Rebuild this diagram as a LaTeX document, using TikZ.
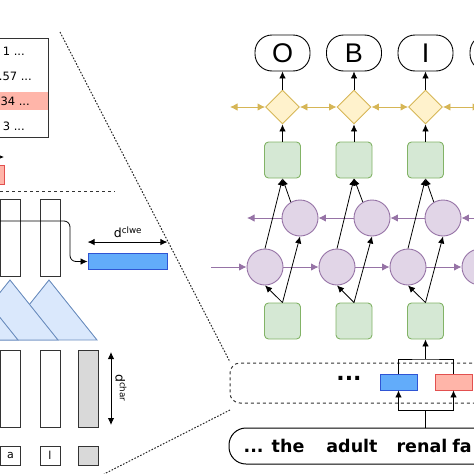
\documentclass[tikz,border=0pt]{standalone}
\usepackage{fontspec}
\setmainfont{DejaVu Sans}
\newfontfamily\tagfont{Liberation Sans}
\usetikzlibrary{arrows,arrows.meta,shapes,calc,positioning}

\definecolor{hidfill}{HTML}{D5E8D4}
\definecolor{hidline}{HTML}{82B366}
\definecolor{rnnfill}{HTML}{E1D5E7}
\definecolor{rnnline}{HTML}{9673A6}
\definecolor{crffill}{HTML}{FFF2CC}
\definecolor{crfline}{HTML}{D6B656}
\definecolor{cnnfill}{HTML}{DAE8FC}
\definecolor{cnnline}{HTML}{6C8EBF}
\definecolor{wordfill}{HTML}{62ACFA}
\definecolor{wordline}{HTML}{2F55D4}
\definecolor{pinkfill}{HTML}{FFB5A9}
\definecolor{pinkline}{HTML}{E2504F}
\definecolor{padfill}{HTML}{D9D9D9}

\tikzset{
	tagbox/.style={draw, line width=0.9pt, rounded corners=17pt, minimum width=55pt, minimum height=36pt, inner sep=0pt, font=\tagfont\fontsize{27}{27}\selectfont},
	crfbox/.style={diamond, draw=crfline, fill=crffill, line width=0.9pt, minimum width=34pt, minimum height=34pt, inner sep=0pt},
	hidbox/.style={draw=hidline, fill=hidfill, line width=0.9pt, rounded corners=4pt, minimum width=36pt, minimum height=36pt, inner sep=0pt},
	rnnbox/.style={circle, draw=rnnline, fill=rnnfill, line width=0.9pt, minimum size=36pt, inner sep=0pt},
	blk/.style={-{Latex[length=7pt, width=6.5pt]}, line width=0.8pt},
	dbl/.style={{Latex[length=7pt, width=6.5pt]}-{Latex[length=7pt, width=6.5pt]}, line width=0.9pt},
	crfarr/.style={{Latex[length=7.5pt, width=7.5pt]}-{Latex[length=7.5pt, width=7.5pt]}, draw=crfline, line width=0.9pt},
	rnnarr/.style={-{Latex[length=7.5pt, width=7.5pt]}, draw=rnnline, line width=0.9pt},
	colbox/.style={draw=black!80, line width=0.9pt, minimum width=20pt, minimum height=77pt, inner sep=0pt},
	charbox/.style={draw=black!80, line width=0.9pt, minimum width=20pt, minimum height=19pt, inner sep=0pt, font=\fontsize{11}{11}\selectfont},
	vecbox/.style={line width=0.9pt, minimum height=16pt, inner sep=0pt},
	rowtext/.style={anchor=east, inner sep=0pt, font=\fontsize{11.5}{11.5}\selectfont},
	wordtext/.style={inner sep=0pt, font=\bfseries\fontsize{17.5}{17.5}\selectfont},
	dotline/.style={line width=1pt, dash pattern=on 1.6pt off 1.6pt, black!85},
	dashline/.style={line width=1pt, dash pattern=on 3pt off 3pt, black!80}
}

\begin{document}
\begin{tikzpicture}[x=1pt,y=-1pt]
	\useasboundingbox (0,0) rectangle (474,474);
	\clip (0,0) rectangle (474,474);
	
	\fill[pinkfill] (-30,92) rectangle (48,110);
	\draw[line width=0.9pt, black!80] (-30,38) rectangle (48,137);
	\node[rowtext] (r1) at (25,51) {1 ...};
	\node[rowtext] (r2) at (32,76) {.57 ...};
	\node[rowtext] (r3) at (30,101) {34 ...};
	\node[rowtext] (r4) at (25,126) {3 ...};
	
	\coordinate (s0) at (-12,157);
	\coordinate (s1) at (4,157);
	\draw[blk] (s0) -- (s1);
	\draw[draw=pinkline, fill=pinkfill, line width=0.9pt] (-20,165) rectangle (4,184);
	\draw[dashline] (0,191) -- (115,191);
	
	\node[colbox] (t1) at (10.5,237.5) {};
	\node[colbox] (t2) at (50,237.5) {};
	\node[vecbox, draw=wordline, fill=wordfill, minimum width=79pt] (cw) at (127.5,261.5) {};
	\coordinate (p0) at (-5,221);
	\draw[blk, rounded corners=6pt] (p0) -- (70,221) -- (70,261.5) -- (cw.west);
	\draw[dbl] ($(cw.north west)+(0,-11)$) -- ($(cw.north east)+(0,-11)$);
	\node[font=\fontsize{12.5}{12.5}\selectfont] (dc) at (128,232) {d\textsuperscript{clwe}};
	
	\draw[fill=cnnfill, draw=cnnline, line width=0.9pt] (1,340) -- (49,280) -- (97,340) -- cycle;
	\draw[fill=cnnfill, draw=cnnline, line width=0.9pt] (-38,340) -- (10,280) -- (58,340) -- cycle;
	\draw[fill=cnnfill, draw=cnnline, line width=0.9pt] (-78,340) -- (-30,280) -- (18,340) -- cycle;
	
	\node[colbox] (u1) at (10.5,388.5) {};
	\node[colbox] (u2) at (50,388.5) {};
	\node[colbox, fill=padfill] (u3) at (88.5,388.5) {};
	\coordinate (dt) at (111,352);
	\coordinate (db) at (111,425);
	\draw[dbl] (dt) -- (db);
	\node[rotate=-90, font=\fontsize{12.5}{12.5}\selectfont] (dh) at (121,388) {d\textsuperscript{char}};
	\node[charbox] (ca) at (10.5,455.5) {a};
	\node[charbox] (cl) at (50,455.5) {l};
	\node[charbox, fill=padfill] (cp) at (88.5,455.5) {};
	
	\coordinate (z0) at (60,32);
	\coordinate (z1) at (230,362);
	\coordinate (z2) at (230,410);
	\coordinate (z3) at (104,474);
	\draw[dotline] (z0) -- (z1);
	\draw[dotline] (z2) -- (z3);
	
	\draw[dashline, rounded corners=10pt] (520,363) -- (230,363) -- (230,403) -- (520,403);
	\node[wordtext, font=\bfseries\fontsize{22}{22}\selectfont] (dots) at (349,378) {...};
	\node[vecbox, draw=wordline, fill=wordfill, minimum width=37pt] (ew) at (398.5,382) {};
	\node[vecbox, draw=pinkline, fill=pinkfill, minimum width=37pt] (ec) at (453.5,382) {};
	
	\draw[line width=1pt, rounded corners=17pt] (520,428) -- (229,428) -- (229,464) -- (520,464);
	\node[wordtext] (w1) at (274,446) {... the};
	\node[wordtext] (w2) at (352,446) {adult};
	\node[wordtext] (w3) at (422,446) {renal};
	\node[wordtext, anchor=east] (w4) at (472,446) {fa};
	
	\node[tagbox] (o1) at (282.5,53) {O};
	\node[tagbox] (o2) at (354,53) {B};
	\node[tagbox] (o3) at (425.5,53) {I};
	\node[tagbox] (o4) at (497.5,53) {};
	
	\node[crfbox] (c1) at (282.5,107) {};
	\node[crfbox] (c2) at (354,107) {};
	\node[crfbox] (c3) at (425.5,107) {};
	\node[crfbox] (c4) at (497.5,107) {};
	\coordinate (c0) at (230,107);
	\draw[crfarr] (c0) -- (c1);
	\draw[crfarr] (c1) -- (c2);
	\draw[crfarr] (c2) -- (c3);
	\draw[crfarr] (c3) -- (c4);
	
	\node[hidbox] (h1) at (282.5,160) {};
	\node[hidbox] (h2) at (354,160) {};
	\node[hidbox] (h3) at (425.5,160) {};
	
	\node[rnnbox] (b1) at (300,218) {};
	\node[rnnbox] (b2) at (372,218) {};
	\node[rnnbox] (b3) at (443,218) {};
	\node[rnnbox] (b4) at (515,218) {};
	\coordinate (b0) at (247,218);
	\draw[rnnarr] (b1) -- (b0);
	\draw[rnnarr] (b2) -- (b1);
	\draw[rnnarr] (b3) -- (b2);
	\draw[rnnarr] (b4) -- (b3);
	
	\node[rnnbox] (f1) at (265,267) {};
	\node[rnnbox] (f2) at (337,267) {};
	\node[rnnbox] (f3) at (408,267) {};
	\node[rnnbox] (f4) at (480,267) {};
	\coordinate (f0) at (211,267);
	\draw[rnnarr] (f0) -- (f1);
	\draw[rnnarr] (f1) -- (f2);
	\draw[rnnarr] (f2) -- (f3);
	\draw[rnnarr] (f3) -- (f4);
	
	\node[hidbox] (g1) at (282.5,321) {};
	\node[hidbox] (g2) at (354,321) {};
	\node[hidbox] (g3) at (425.5,321) {};
	
	\draw[blk] (c1) -- (o1);
	\draw[blk] (c2) -- (o2);
	\draw[blk] (c3) -- (o3);
	\draw[blk] (h1) -- (c1);
	\draw[blk] (h2) -- (c2);
	\draw[blk] (h3) -- (c3);
	
	\draw[blk] (g1.north) -- (f1.south);
	\draw[blk] (g2.north) -- (f2.south);
	\draw[blk] (g3.north) -- (f3.south);
	\draw[blk] (g1.north) -- (b1.south);
	\draw[blk] (g2.north) -- (b2.south);
	\draw[blk] (g3.north) -- (b3.south);
	\draw[blk] (f1.north) -- (h1.south);
	\draw[blk] (f2.north) -- (h2.south);
	\draw[blk] (f3.north) -- (h3.south);
	\draw[blk] (b1.120) -- (h1.south);
	\draw[blk] (b2.120) -- (h2.south);
	\draw[blk] (b3.120) -- (h3.south);
	
	\coordinate (jt) at (425.5,359);
	\coordinate (jb) at (425.5,410);
	\coordinate (js) at (425.5,428);
	\draw[line width=0.9pt] (ew.north) |- (jt) -| (ec.north);
	\draw[blk] (jt) -- (g3.south);
	\draw[line width=0.9pt] (js) -- (jb);
	\draw[blk] (jb) -| (ew.south);
	\draw[blk] (jb) -| (ec.south);
	
\end{tikzpicture}
\end{document}
